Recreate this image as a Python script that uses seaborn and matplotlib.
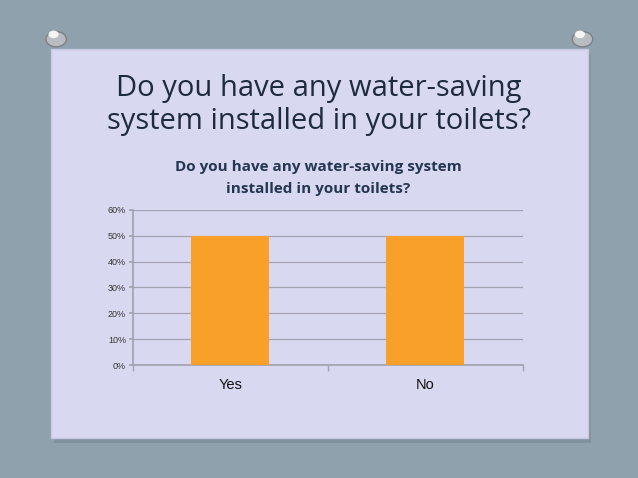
import pandas as pd
import matplotlib.pyplot as plt
from matplotlib.patches import Rectangle, Circle
from matplotlib.ticker import PercentFormatter
import seaborn as sns

sns.set_theme(style="white")
plt.rcParams['font.family'] = ['Open Sans', 'DejaVu Sans']

answers = ['Yes', 'No']
shares = [0.50, 0.50]
y_ticks = [0.0, 0.1, 0.2, 0.3, 0.4, 0.5, 0.6]

slide_title = 'Do you have any water-saving\nsystem installed in your toilets?'
chart_title = 'Do you have any water-saving system\ninstalled in your toilets?'

df = pd.DataFrame({'answer': answers, 'share': shares})

fig = plt.figure(figsize=(6.38, 4.78), dpi=100)
fig.patch.set_facecolor('#8ea1ad')

# paper sheet with a soft shadow
fig.patches.append(Rectangle((0.084, 0.074), 0.842, 0.814, transform=fig.transFigure,
                             facecolor='#5f6f7a', alpha=0.3, edgecolor='none', zorder=-3))
fig.patches.append(Rectangle((0.080, 0.084), 0.842, 0.814, transform=fig.transFigure,
                             facecolor='#d9d8f1', edgecolor='#c8c7e2', zorder=-2))
# pins
for px in (0.088, 0.913):
    fig.patches.append(Circle((px, 0.918), 0.016, transform=fig.transFigure,
                              facecolor='#b9bcc0', edgecolor='#7d8186', zorder=-1))
    fig.patches.append(Circle((px - 0.004, 0.928), 0.008, transform=fig.transFigure,
                              facecolor='#f4f4f4', edgecolor='none', zorder=-1))

fig.text(0.5, 0.78, slide_title, ha='center', va='center', fontsize=21,
         color='#1e2b3f', linespacing=1.2)

ax = fig.add_axes([0.2085, 0.2364, 0.611, 0.3243])
ax.set_facecolor('none')
sns.barplot(data=df, x='answer', y='share', color='#f9a02a', width=0.4,
            saturation=1, linewidth=0, edgecolor='none', ax=ax, zorder=3)

ax.set_ylim(0, 0.6)
ax.set_yticks(y_ticks)
ax.yaxis.set_major_formatter(PercentFormatter(1.0, decimals=0))
ax.yaxis.grid(True, color='#a2a2b2', linewidth=0.9)
ax.set_axisbelow(True)
ax.set_xlabel('')
ax.set_ylabel('')
for s in ['top', 'right']:
    ax.spines[s].set_visible(False)
ax.spines['left'].set_color('#a2a2b2')
ax.spines['bottom'].set_color('#a2a2b2')
ax.tick_params(axis='y', labelsize=6.5, labelcolor='#333333', length=3, color='#a2a2b2',
               left=True, pad=2)
ax.tick_params(axis='x', labelsize=10.5, labelcolor='#111111', bottom=False, pad=3)
for lab in ax.get_xticklabels() + ax.get_yticklabels():
    lab.set_family(['Liberation Sans', 'DejaVu Sans'])
# category boundary ticks
ax.set_xticks([-0.5, 0.5, 1.5], minor=True)
ax.tick_params(axis='x', which='minor', bottom=True, length=4, color='#a2a2b2', direction='out')
ax.set_xlim(-0.5, 1.5)

ax.set_title(chart_title, fontsize=11, fontweight='bold', color='#243650',
             pad=12, linespacing=1.75)
ax.title.set_x(0.475)

fig.savefig('out.png', dpi=100, facecolor=fig.get_facecolor())
